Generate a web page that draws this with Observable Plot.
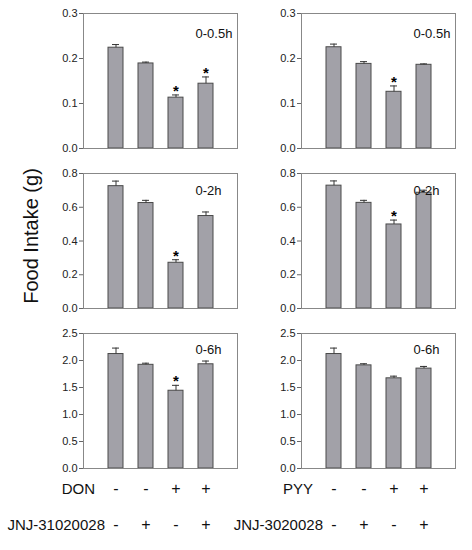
<!DOCTYPE html>
<html>
<head>
<meta charset="utf-8">
<script src="https://cdn.jsdelivr.net/npm/d3@7"></script>
<script src="https://cdn.jsdelivr.net/npm/@observablehq/plot@0.6"></script>
<style>
  body { margin: 0; background: white; }
  #figure { position: relative; width: 472px; height: 550px; font-family: "Liberation Sans", Arial, sans-serif; }
  #figure > div { position: absolute; }
</style>
</head>
<body>
<div id="figure"></div>
<script>
// four treatment groups, same order in every panel
const groups = ["g1", "g2", "g3", "g4"];

// DON series (left column)
const donMean05 = [0.224, 0.189, 0.113, 0.144];
const donErr05 = [0.007, 0.003, 0.006, 0.015];
const donMean2 = [0.725, 0.625, 0.271, 0.548];
const donErr2 = [0.030, 0.016, 0.018, 0.024];
const donMean6 = [2.12, 1.92, 1.44, 1.93];
const donErr6 = [0.11, 0.03, 0.10, 0.06];
const donStar05 = [false, false, true, true];
const donStar2 = [false, false, true, false];
const donStar6 = [false, false, true, false];

// PYY series (right column)
const pyyMean05 = [0.225, 0.188, 0.126, 0.186];
const pyyErr05 = [0.007, 0.005, 0.013, 0.002];
const pyyMean2 = [0.728, 0.626, 0.498, 0.686];
const pyyErr2 = [0.028, 0.015, 0.026, 0.015];
const pyyMean6 = [2.12, 1.91, 1.67, 1.85];
const pyyErr6 = [0.11, 0.03, 0.04, 0.04];
const pyyStar05 = [false, false, true, false];
const pyyStar2 = [false, false, true, false];
const pyyStar6 = [false, false, false, false];

// treatment table under the bottom panels
const donSigns = ["-", "-", "+", "+"];
const jnjSigns = ["-", "+", "-", "+"];
const leftRowLabels = ["DON", "JNJ-31020028"];
const rightRowLabels = ["PYY", "JNJ-3020028"];

const timeLabels = ["0-0.5h", "0-2h", "0-6h"];
const yMax = [0.3, 0.8, 2.5];
const yTicks = [
  [0, 0.1, 0.2, 0.3],
  [0, 0.2, 0.4, 0.6, 0.8],
  [0, 0.5, 1.0, 1.5, 2.0, 2.5],
];
const yTitle = "Food Intake (g)";

const fig = document.getElementById("figure");

function rows(means, errs, stars) {
  return groups.map((g, i) => ({ group: g, mean: means[i], top: means[i] + errs[i], star: stars[i] }));
}

function panel({ data, row, col, bottom = false, labels = null, withTitle = false }) {
  const left = col === 0;
  const width = left ? 240 : 232;
  const height = bottom ? 230 : 160;
  const labelDy = [15, 12, 11][row];

  let marks = [
    Plot.barY(data, {
      x: "group",
      y: "mean",
      fill: "#a2a1a8",
      stroke: "#4a4a4a",
      strokeWidth: 1,
    }),
    Plot.ruleX(data, { x: "group", y1: "mean", y2: "top", stroke: "#333" }),
    Plot.tickY(data, { x: "group", y: "top", stroke: "#333", insetLeft: 4, insetRight: 4 }),
    Plot.text(data.filter((d) => d.star), {
      x: "group",
      y: "top",
      text: () => "*",
      fontSize: "15px",
      fontWeight: "bold",
      dy: -4,
      fill: "black",
    }),
    Plot.frame({ stroke: "#888" }),
    Plot.axisY({
      ticks: yTicks[row],
      tickFormat: ".1f",
      tickSize: 4,
      tickPadding: 2,
      stroke: "#666",
      fill: "#222",
      fontSize: "11px",
      label: null,
    }),
    Plot.text([timeLabels[row]], {
      frameAnchor: "top-right",
      textAnchor: "start",
      dx: -42,
      dy: labelDy,
      fontSize: "13px",
      fill: "#111",
    }),
  ];

  if (withTitle) {
    // frameAnchor "left" would default to a start anchor, so centre it explicitly
    marks.push(
      Plot.text([yTitle], {
        frameAnchor: "left",
        textAnchor: "middle",
        rotate: -90,
        dx: -52,
        dy: -5,
        fontSize: "20px",
        fill: "#111",
      }),
    );
  }

  if (bottom) {
    const signs = groups.map((g, i) => ({ group: g, a: donSigns[i], b: jnjSigns[i] }));
    const signStyle = { x: "group", frameAnchor: "bottom", fontSize: "16px", fill: "#111" };
    marks.push(
      Plot.text(signs, { ...signStyle, text: "a", dy: 25 }),
      Plot.text(signs, { ...signStyle, text: "b", dy: 61 }),
      Plot.text([{ group: groups[0], t: labels[0] }], {
        x: "group", text: "t", frameAnchor: "bottom", textAnchor: "end", dx: -21, dy: 25, fontSize: "15px", fill: "#111",
      }),
      Plot.text([{ group: groups[0], t: labels[1] }], {
        x: "group", text: "t", frameAnchor: "bottom", textAnchor: "end", dx: -11, dy: 61, fontSize: "15px", fill: "#111",
      }),
    );
  }

  const chart = Plot.plot({
    width: width,
    height: height,
    marginLeft: left ? 83 : 61,
    marginRight: left ? 3 : 17,
    marginTop: 13,
    marginBottom: bottom ? 82 : 12,
    style: {
      fontFamily: "'Liberation Sans', Arial, sans-serif",
      background: "white",
      overflow: "visible",
    },
    x: { type: "band", domain: groups, paddingInner: 0.5, paddingOuter: 0.76, axis: null },
    y: { domain: [0, yMax[row]], axis: null },
    marks: marks,
  });

  const holder = document.createElement("div");
  holder.style.left = (left ? 0 : 240) + "px";
  holder.style.top = row * 160 + "px";
  holder.appendChild(chart);
  fig.appendChild(holder);
}

panel({ data: rows(donMean05, donErr05, donStar05), row: 0, col: 0 });
panel({ data: rows(pyyMean05, pyyErr05, pyyStar05), row: 0, col: 1 });
panel({ data: rows(donMean2, donErr2, donStar2), row: 1, col: 0, withTitle: true });
panel({ data: rows(pyyMean2, pyyErr2, pyyStar2), row: 1, col: 1 });
panel({ data: rows(donMean6, donErr6, donStar6), row: 2, col: 0, bottom: true, labels: leftRowLabels });
panel({ data: rows(pyyMean6, pyyErr6, pyyStar6), row: 2, col: 1, bottom: true, labels: rightRowLabels });
</script>
</body>
</html>
